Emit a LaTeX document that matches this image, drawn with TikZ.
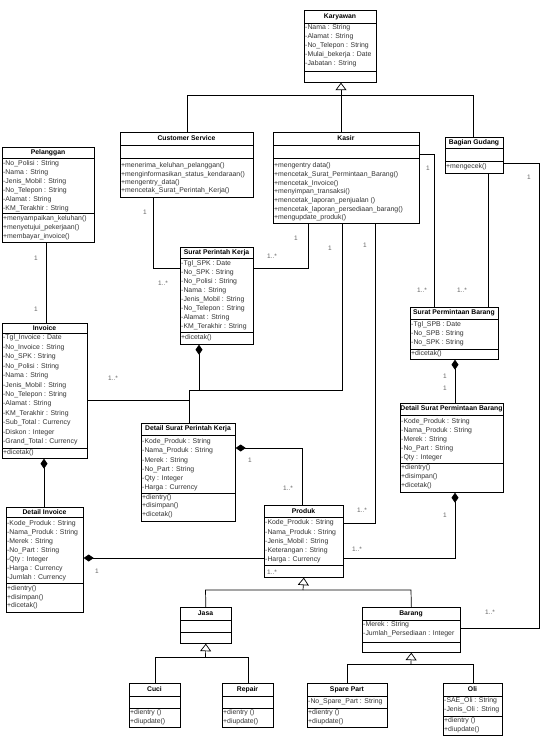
\documentclass[tikz,border=0pt]{standalone}
\usepackage{fontspec}
\setmainfont{Liberation Sans}
\usetikzlibrary{arrows.meta}
\tikzset{
  clsbox/.style={draw=black, line width=0.7pt, anchor=north west, inner sep=0pt, fill=white},
  sep/.style={draw=black, line width=0.7pt},
  ttl/.style={font=\fontsize{6.8}{7}\selectfont\bfseries, inner sep=0pt},
  rowtxt/.style={font=\fontsize{6.9}{7}\selectfont, text=black!80, anchor=west, inner sep=0pt},
  lab/.style={font=\fontsize{6.5}{7}\selectfont, text=black!60, inner sep=0pt},
  conn/.style={draw=black, line width=0.7pt},
  gen/.style={conn, -{Triangle[open, length=7.5pt, width=11pt, fill=white]}},
  comp/.style={conn, {Diamond[length=10pt, width=7pt, fill=black]}-},
}
\newcommand{\cls}[8]{%
  \node[clsbox, minimum width={(#4-#2)*1pt}, minimum height={(#5-#3)*1pt}] (#1) at (#2,#3) {};
  \draw[sep] (#2,#7) -- (#4,#7) (#2,#8) -- (#4,#8);
  \node[ttl] (#1-t) at ({(#2+#4)/2},{(#3+#7)/2}) {#6};
}
\newcommand{\rows}[5]{%
  \foreach \t [count=\i from 0] in {#5} \node[rowtxt] (#1-\i) at ({#2+1},{#3+\i*#4}) {\t};
}
\begin{document}
\begin{tikzpicture}[x=1pt, y=-1pt]
\fill[white] (0,0) rectangle (549,741);
\useasboundingbox (0,0) rectangle (549,741);

% Karyawan
\cls{kar}{304}{10}{376}{82}{Karyawan}{23}{71}
\rows{kara}{304}{28}{9}{-Nama : String, -Alamat : String, -No\_Telepon : String, -Mulai\_bekerja : Date, -Jabatan : String}

% Customer Service
\cls{cs}{120}{132}{253}{197}{Customer Service}{145}{158}
\rows{cso}{120}{166}{8.4}{+menerima\_keluhan\_pelanggan(), +menginformasikan\_status\_kendaraan(), +mengentry\_data(), +mencetak\_Surat\_Perintah\_Kerja()}

% Kasir
\cls{kas}{273}{132}{419}{223}{Kasir}{145}{158}
\rows{kaso}{273}{166}{8.67}{+mengentry data(), +mencetak\_Surat\_Permintaan\_Barang(), +mencetak\_Invoice(), +menyimpan\_transaksi(), +mencetak\_laporan\_penjualan (), +mencetak\_laporan\_persediaan\_barang(), +mengupdate\_produk()}

% Bagian Gudang
\cls{bg}{445}{137}{503}{173}{Bagian Gudang}{148}{161}
\rows{bgo}{445}{166.5}{9}{+mengecek()}

% Pelanggan
\cls{pel}{2}{147}{94}{242}{Pelanggan}{158.5}{213.5}
\rows{pela}{2}{163.5}{9}{-No\_Polisi : String, -Nama : String, -Jenis\_Mobil : String, -No\_Telepon : String, -Alamat : String, -KM\_Terakhir : String}
\rows{pelo}{2}{219}{9}{+menyampaikan\_keluhan(), +menyetujui\_pekerjaan(), +membayar\_invoice()}

% Surat Perintah Kerja
\cls{spk}{180}{247}{253}{344}{Surat Perintah Kerja}{258}{332}
\rows{spka}{180}{264}{9}{-Tgl\_SPK : Date, -No\_SPK : String, -No\_Polisi : String, -Nama : String, -Jenis\_Mobil : String, -No\_Telepon : String, -Alamat : String, -KM\_Terakhir : String}
\rows{spko}{180}{338}{9}{+dicetak()}

% Invoice
\cls{inv}{2}{323}{87}{458}{Invoice}{333}{448}
\rows{inva}{2}{338}{9.45}{-Tgl\_Invoice : Date, -No\_Invoice : String, -No\_SPK : String, -No\_Polisi : String, -Nama : String, -Jenis\_Mobil : String, -No\_Telepon : String, -Alamat : String, -KM\_Terakhir : String, -Sub\_Total : Currency, -Diskon : Integer, -Grand\_Total : Currency}
\rows{invo}{2}{453}{9}{+dicetak()}

% Surat Permintaan Barang
\cls{spb}{410}{307}{498}{359}{Surat Permintaan Barang}{319}{349}
\rows{spba}{410}{325}{9}{-Tgl\_SPB : Date, -No\_SPB : String, -No\_SPK : String}
\rows{spbo}{410}{354}{9}{+dicetak()}

% Detail Surat Permintaan Barang
\cls{dspb}{400}{403}{503}{492}{Detail Surat Permintaan Barang}{415}{463}
\rows{dspba}{400}{422}{9}{-Kode\_Produk : String, -Nama\_Produk : String, -Merek : String, -No\_Part : String, -Qty : Integer}
\rows{dspbo}{400}{468}{9}{+dientry(), +disimpan(), +dicetak()}

% Detail Surat Perintah Kerja
\cls{dspk}{141}{423}{235}{521}{Detail Surat Perintah Kerja}{435}{493}
\rows{dspka}{141}{442}{9.2}{-Kode\_Produk : String, -Nama\_Produk : String, -Merek : String, -No\_Part : String, -Qty : Integer, -Harga : Currency}
\rows{dspko}{141}{497.5}{8.5}{+dientry(), +disimpan(), +dicetak()}

% Detail Invoice
\cls{dinv}{6}{507}{83}{612}{Detail Invoice}{517}{583}
\rows{dinva}{6}{524}{9}{-Kode\_Produk : String, -Nama\_Produk : String, -Merek : String, -No\_Part : String, -Qty : Integer, -Harga : Currency, -Jumlah : Currency}
\rows{dinvo}{6}{589}{8.6}{+dientry(), +disimpan(), +dicetak()}

% Produk
\cls{prod}{264}{505}{343}{577}{Produk}{517}{565}
\rows{proda}{264}{523}{9.25}{-Kode\_Produk : String, -Nama\_Produk : String, -Jenis\_Mobil : String, -Keterangan : String, -Harga : Currency}

% Jasa
\cls{jasa}{180}{607}{231}{643}{Jasa}{620}{632}

% Barang
\cls{bar}{362}{607}{460}{652}{Barang}{620}{642}
\rows{bara}{362}{625}{9}{-Merek : String, -Jumlah\_Persediaan : Integer}

% Cuci
\cls{cuci}{129}{683}{180}{727}{Cuci}{696}{708}
\rows{cucio}{129}{713}{9}{+dientry (), +diupdate()}

% Repair
\cls{rep}{222}{683}{273}{727}{Repair}{696}{708}
\rows{repo}{222}{713}{9}{+dientry (), +diupdate()}

% Spare Part
\cls{sp}{307}{683}{387}{727}{Spare Part}{696}{708}
\rows{spa}{307}{701.5}{9}{-No\_Spare\_Part : String}
\rows{spo}{307}{713}{9}{+dientry (), +diupdate()}

% Oli
\cls{oli}{443}{683}{502}{735}{Oli}{696}{716}
\rows{olia}{443}{701}{9}{-SAE\_Oli : String, -Jenis\_Oli : String}
\rows{olio}{443}{721}{9}{+dientry (), +diupdate()}

% ---- generalizations ----
\coordinate (gk) at (341,95);
\draw[conn] (187,0 |- cs.north) -- (187,95) -- (473,95) -- (473,0 |- bg.north);
\draw[conn] (341,0 |- kas.north) -- (gk);
\draw[gen] (gk) -- (341,0 |- kar.south);

\coordinate (gp) at (303,590);
\draw[conn] (jasa.north) -- (205.5,590) -- (411,590) -- (bar.north);
\draw[gen] (gp) -- (prod.south);

\coordinate (gj) at (205.5,657);
\draw[conn] (155,0 |- cuci.north) -- (155,657) -- (248,657) -- (248,0 |- rep.north);
\draw[gen] (gj) -- (jasa.south);

\coordinate (gb) at (411,664);
\draw[conn] (347,0 |- sp.north) -- (347,664) -- (473,664) -- (473,0 |- oli.north);
\draw[gen] (gb) -- (bar.south);

% ---- associations ----
\draw[conn] (46,0 |- pel.south) -- (46,0 |- inv.north);
\draw[conn] (153,0 |- cs.south) -- (153,268) -- (spk.west |- 0,268);
\draw[conn] (308,0 |- kas.south) -- (308,268) -- (spk.east |- 0,268);
\draw[conn] (375,0 |- kas.south) -- (375,523) -- (prod.east |- 0,523);
\draw[conn] (kas.east |- 0,154) -- (434,154) -- (434,0 |- spb.north);
\draw[conn] (488,0 |- bg.south) -- (488,0 |- spb.north);
\draw[conn] (bg.east |- 0,163) -- (539,163) -- (539,628) -- (bar.east |- 0,628);
\draw[conn] (342,0 |- kas.south) -- (342,390) -- (189,390);
\draw[conn] (inv.east |- 0,400) -- (189,400);
\draw[comp] (199,0 |- spk.south) -- (199,390) -- (189,390) -- (189,0 |- dspk.north);
\draw[comp] (455,0 |- spb.south) -- (455,0 |- dspb.north);
\draw[comp] (455,0 |- dspb.south) -- (455,558) -- (prod.east |- 0,558);
\draw[comp] (dinv.east |- 0,558) -- (prod.west |- 0,558);
\draw[comp] (dspk.east |- 0,448) -- (302,448) -- (302,0 |- prod.north);
\draw[comp] (44,0 |- inv.south) -- (44,0 |- dinv.north);

% ---- multiplicities ----
\node[lab] (m1) at (36,258) {1};
\node[lab] (m2) at (36,309) {1};
\node[lab] (m3) at (145,212) {1};
\node[lab] (m4) at (163,283) {1..*};
\node[lab] (m5) at (272,256) {1..*};
\node[lab] (m6) at (296,238) {1};
\node[lab] (m7) at (330,248) {1};
\node[lab] (m8) at (365,245) {1};
\node[lab] (m9) at (113,378) {1..*};
\node[lab] (m10) at (250,460) {1};
\node[lab] (m11) at (288,488) {1..*};
\node[lab] (m12) at (428,168) {1};
\node[lab] (m13) at (422,290) {1..*};
\node[lab] (m14) at (462,290) {1..*};
\node[lab] (m15) at (529,177) {1};
\node[lab] (m16) at (445,376) {1};
\node[lab] (m17) at (445,388) {1};
\node[lab] (m18) at (445,515) {1};
\node[lab] (m19) at (362,510) {1..*};
\node[lab] (m20) at (357,549) {1..*};
\node[lab] (m21) at (97,571) {1};
\node[lab] (m22) at (272,572) {1..*};
\node[lab] (m23) at (490,612) {1..*};
\end{tikzpicture}
\end{document}
